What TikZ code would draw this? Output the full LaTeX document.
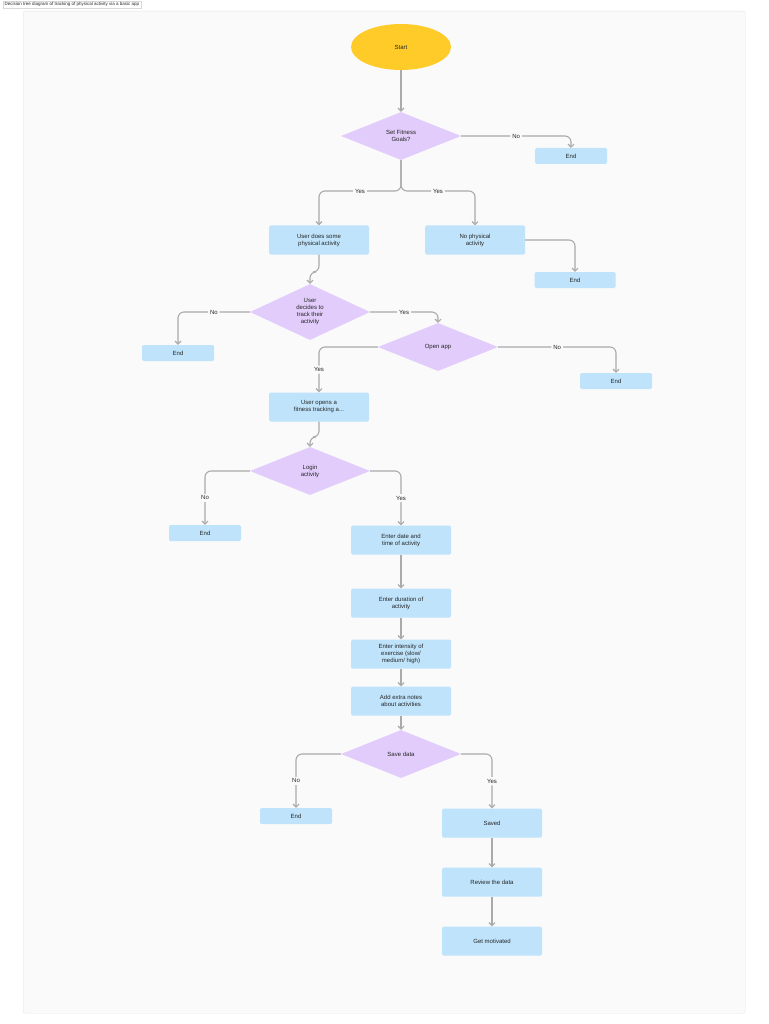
\documentclass[tikz,border=0pt]{standalone}
\usepackage{fontspec}
\setmainfont{Liberation Sans}
\usetikzlibrary{shapes.geometric,arrows.meta}
\definecolor{bx}{RGB}{190,227,251}
\definecolor{dm}{RGB}{226,204,251}
\definecolor{st}{RGB}{255,203,41}
\definecolor{ln}{RGB}{170,170,170}
\begin{document}
\begin{tikzpicture}[x=1pt,y=-1pt,
 every node/.style={font=\fontsize{6}{7}\selectfont,align=center,text=black!85},
 box/.style={fill=bx,rounded corners=1.5pt,minimum width=100pt,minimum height=29pt,inner sep=1pt},
 endb/.style={fill=bx,rounded corners=1.5pt,minimum width=72pt,minimum height=16pt,inner sep=1pt},
 dia/.style={diamond,fill=dm,aspect=2.5,minimum width=120pt,minimum height=48pt,inner sep=0pt},
 arr/.style={draw=ln,line width=1.1pt,rounded corners=6pt,-{Straight Barb[length=3pt,width=6pt]}},
 lab/.style={fill=black!2,inner sep=2pt}]
\useasboundingbox (0,0) rectangle (768,1024);
\node[draw=black!15,line width=0.4pt,fill=white,font=\fontsize{4.5}{5}\selectfont,anchor=north west,inner sep=1.5pt] (title) at (3,1) {Decision tree diagram of tracking of physical activity via a basic app};
\node[draw=black!10,fill=black!2,rounded corners=2pt,minimum width=722pt,minimum height=1002pt,anchor=north west,inner sep=0pt] (panel) at (23,11) {};
\node[ellipse,fill=st,minimum width=100pt,minimum height=46pt] (start) at (401,47) {Start};
\node[dia] (d1) at (401,136) {Set Fitness\\Goals?};
\node[endb] (e1) at (571,156) {End};
\node[box] (u1) at (319,240) {User does some\\physical activity};
\node[box] (n1) at (475,240) {No physical\\activity};
\node[endb,minimum width=81pt] (e2) at (575,280) {End};
\node[dia,minimum height=56pt] (d2) at (310,312) {User\\decides to\\track their\\activity};
\node[endb] (e3) at (178,353) {End};
\node[dia] (d3) at (438,347) {Open app};
\node[endb] (e4) at (616,381) {End};
\node[box] (u2) at (319,407) {User opens a\\fitness tracking a...};
\node[dia] (d4) at (310,471) {Login\\activity};
\node[endb] (e5) at (205,533) {End};
\node[box] (s1) at (401,540) {Enter date and\\time of activity};
\node[box] (s2) at (401,603) {Enter duration of\\activity};
\node[box] (s3) at (401,654) {Enter intensity of\\exercise (slow/\\medium/ high)};
\node[box] (s4) at (401,701) {Add extra notes\\about activities};
\node[dia] (d5) at (401,754) {Save data};
\node[endb] (e6) at (296,816) {End};
\node[box] (sv) at (492,823) {Saved};
\node[box] (rv) at (492,882) {Review the data};
\node[box] (gm) at (492,941) {Get motivated};
\draw[arr] (start) -- (d1);
\draw[arr] (d1.east) -- node[lab]{No} (571,136) -- (e1.north);
\draw[arr] (d1.south) -- (401,191) -- node[lab]{Yes} (319,191) -- (u1.north);
\draw[arr] (d1.south) -- (401,191) -- node[lab]{Yes} (475,191) -- (n1.north);
\draw[arr] (n1.east) -| (e2.north);
\draw[arr] (u1.south) -- (319,272) -- (310,272) -- (d2.north);
\draw[arr] (d2.west) -- node[lab]{No} (178,312) -- (e3.north);
\draw[arr] (d2.east) -- node[lab]{Yes} (438,312) -- (d3.north);
\draw[arr] (d3.west) -- (319,347) -- node[lab]{Yes} (u2.north);
\draw[arr] (d3.east) -- node[lab]{No} (616,347) -- (e4.north);
\draw[arr] (u2.south) -- (319,437) -- (310,437) -- (d4.north);
\draw[arr] (d4.west) -- (205,471) -- node[lab]{No} (e5.north);
\draw[arr] (d4.east) -- (401,471) -- node[lab]{Yes} (s1.north);
\draw[arr] (s1) -- (s2);
\draw[arr] (s2) -- (s3);
\draw[arr] (s3) -- (s4);
\draw[arr] (s4) -- (d5);
\draw[arr] (d5.west) -- (296,754) -- node[lab]{No} (e6.north);
\draw[arr] (d5.east) -- (492,754) -- node[lab]{Yes} (sv.north);
\draw[arr] (sv) -- (rv);
\draw[arr] (rv) -- (gm);
\end{tikzpicture}
\end{document}
